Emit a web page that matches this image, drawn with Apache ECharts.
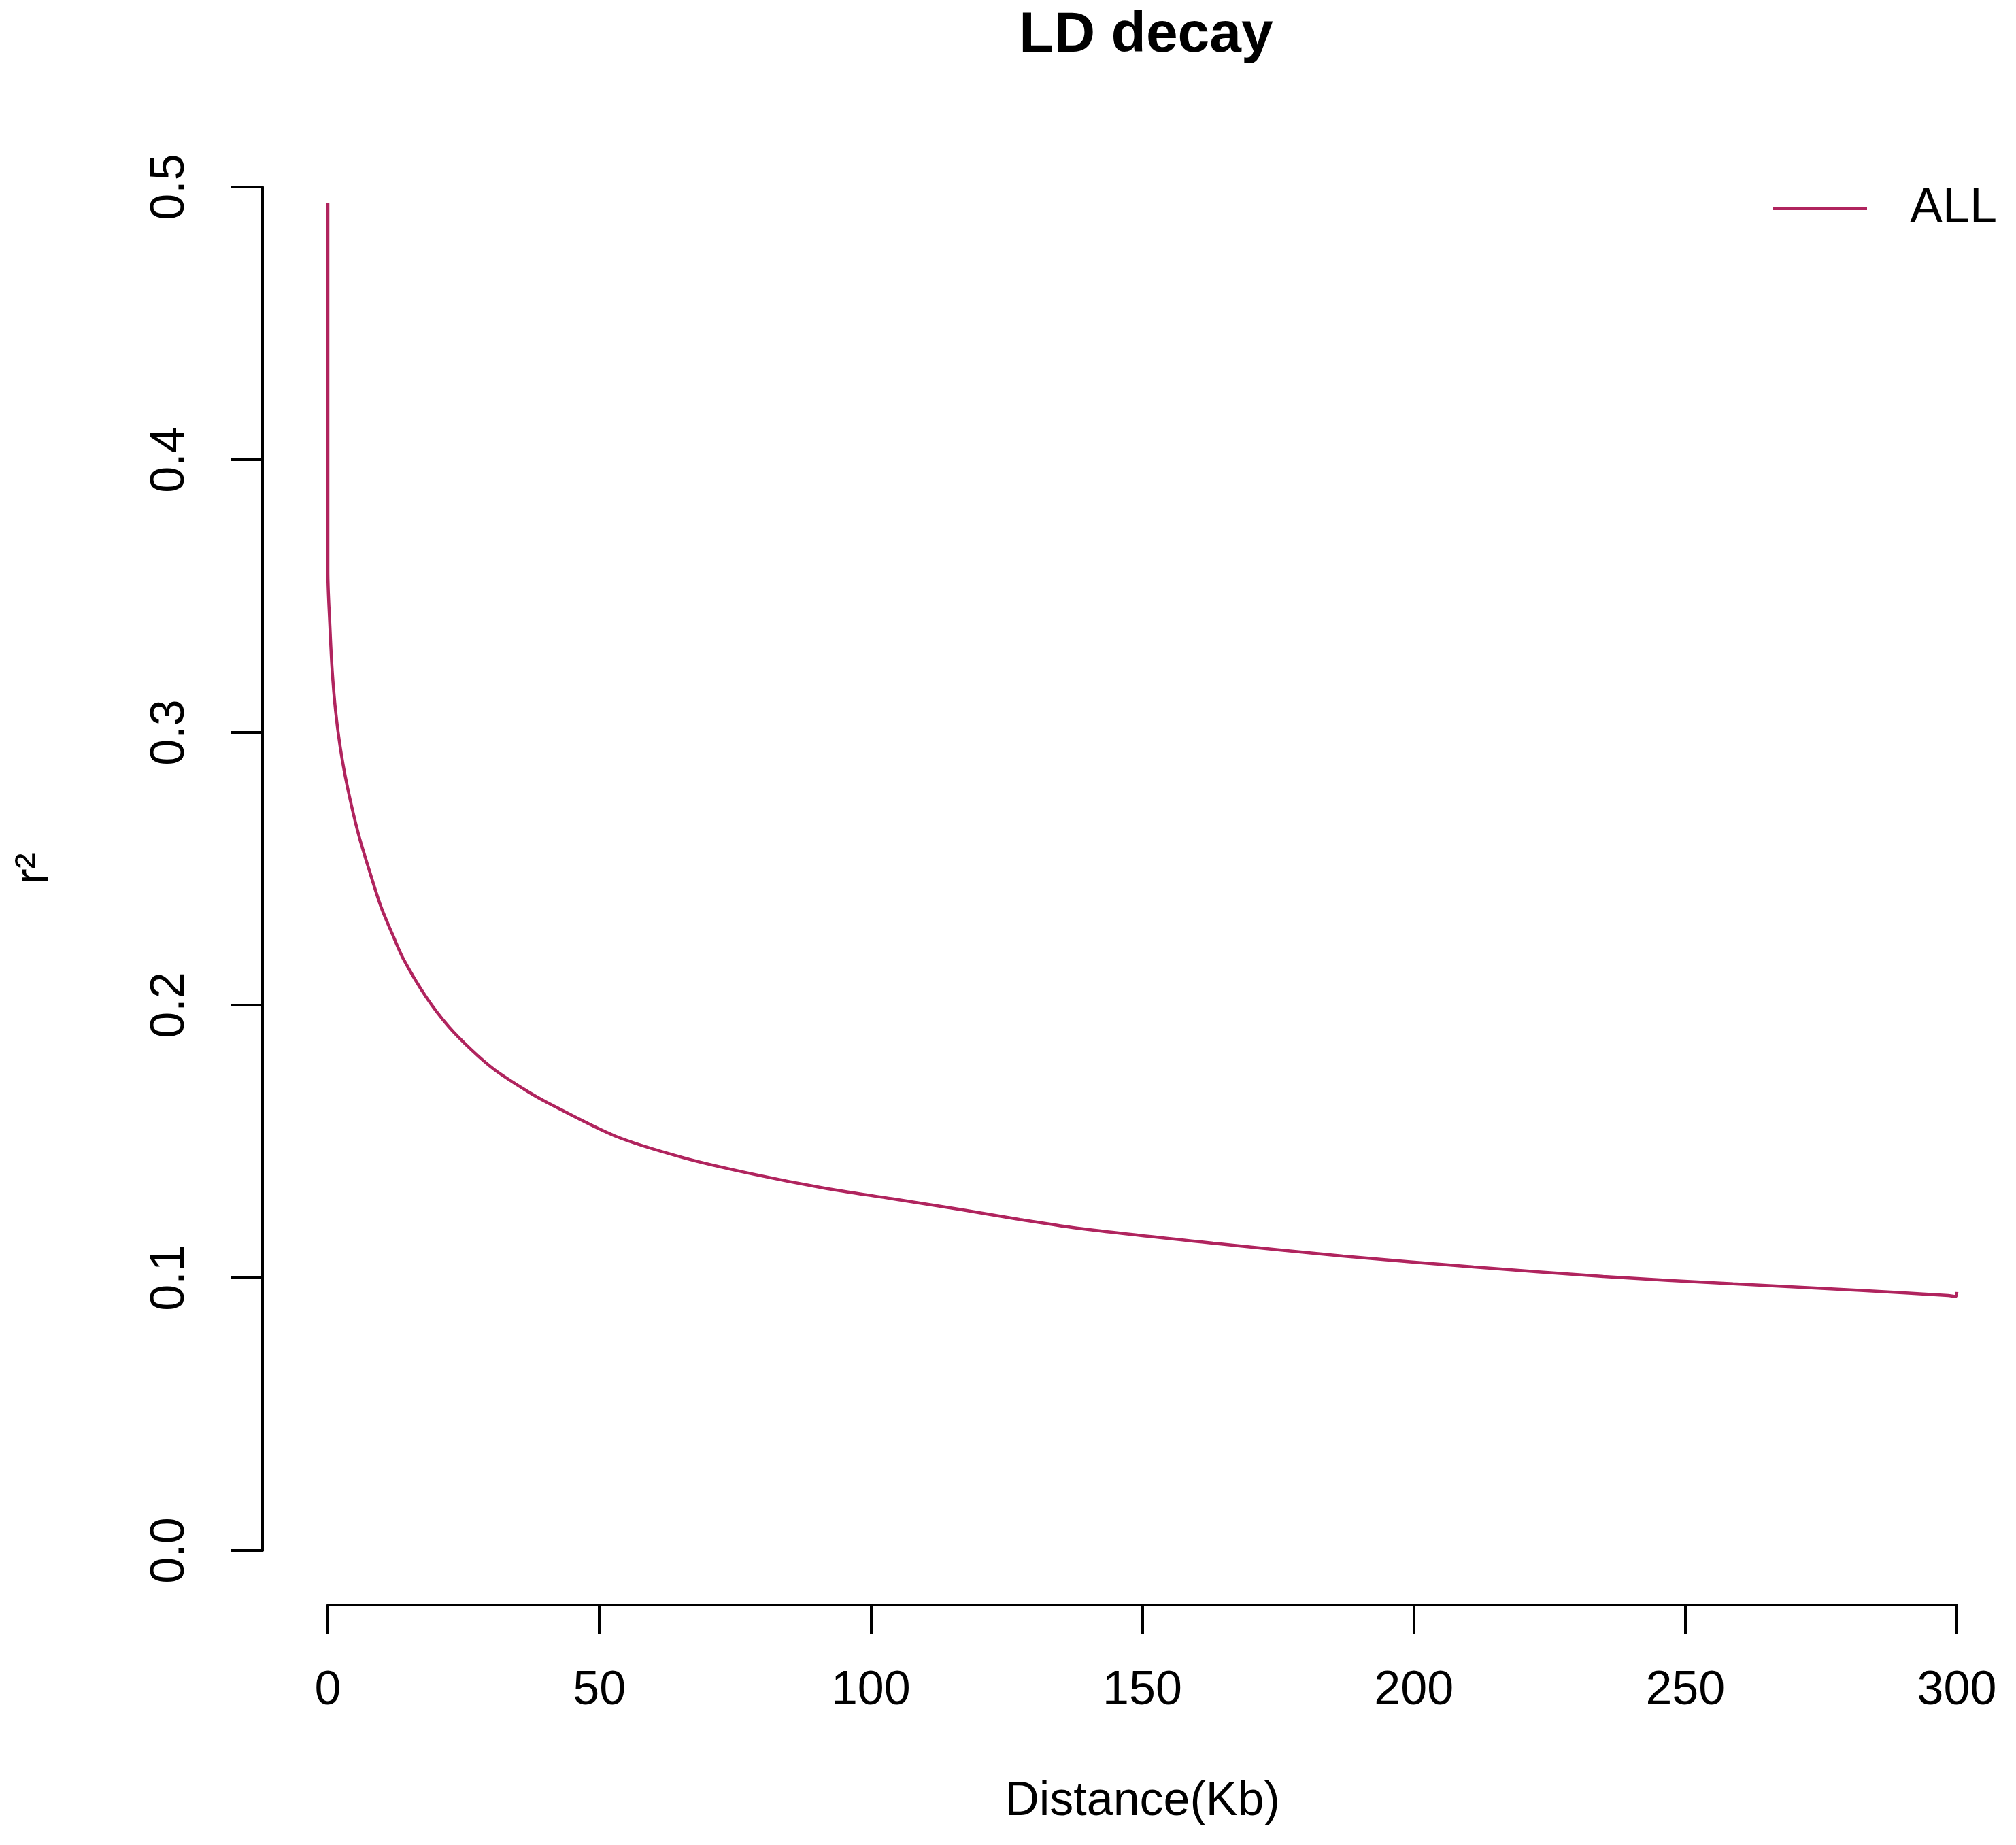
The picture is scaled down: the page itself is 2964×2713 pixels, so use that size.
<!DOCTYPE html>
<html>
  <head>
    <meta charset="UTF-8">
    <title>LD decay</title>
    <style type="text/css">
      body {
        margin: 0;
        padding: 0;
        background-color: white;
      }
      #main {
        width: 2964px;
        height: 2713px;
      }
    </style>
  </head>
  <body>
    <div id="main"></div>
    <script src="https://cdn.jsdelivr.net/npm/echarts@6/dist/echarts.min.js"></script>
    <script type="text/javascript">
      // distance in Kb and mean r^2
      var distance = [0, 0, 0.38, 0.79, 1.42, 2.25, 3.5, 5.6, 7.7, 9.8, 11.9, 13.9, 18.1, 22.3, 26.5, 30.7, 36.1,
                      40.1, 52.9, 65.6, 78.4, 91.2, 104, 116.7, 127.5, 138.9, 163, 186.9, 211, 234.9, 258.8,
                      282.8, 298.4, 299.8, 300];
      var r2 = [0.494, 0.359, 0.339, 0.323, 0.308, 0.295, 0.281, 0.263, 0.249, 0.236, 0.226, 0.217, 0.203, 0.192,
                0.1835, 0.1763, 0.1692, 0.1646, 0.152, 0.144, 0.138, 0.133, 0.129, 0.125, 0.1214, 0.118, 0.1127,
                0.108, 0.104, 0.1005, 0.0978, 0.0953, 0.0935, 0.0932, 0.0948];
      var xTicks = [0, 50, 100, 150, 200, 250, 300];
      var yTicks = [0, 0.1, 0.2, 0.3, 0.4, 0.5];
      var seriesName = 'ALL';

      var points = distance.map(function (d, i) { return [d, r2[i]]; });
      var font = 'Liberation Sans, Arial, Helvetica, sans-serif';

      var chart = echarts.init(document.getElementById('main'));
      chart.setOption({
        backgroundColor: 'white',
        animation: false,
        textStyle: { fontFamily: font },
        title: {
          text: 'LD decay',
          left: 1680,
          textAlign: 'center',
          top: 6,
          textStyle: { fontSize: 84, fontWeight: 'bold', color: '#000', fontFamily: font }
        },
        legend: {
          data: [seriesName],
          left: 2602,
          top: 266,
          icon: 'rect',
          itemWidth: 138,
          itemHeight: 4,
          textStyle: { fontSize: 72, color: '#000', padding: [0, 0, 0, 58], fontFamily: font }
        },
        grid: { left: 482, right: 87, top: 275, bottom: 433 },
        xAxis: {
          type: 'value',
          min: xTicks[0],
          max: xTicks[xTicks.length - 1],
          interval: 50,
          offset: 80,
          name: 'Distance(Kb)',
          nameLocation: 'middle',
          nameGap: 255,
          nameTextStyle: { fontSize: 70, color: '#000', fontFamily: font },
          axisLine: { onZero: false, lineStyle: { color: '#000', width: 4 } },
          axisTick: { length: 42, lineStyle: { color: '#000', width: 4 } },
          axisLabel: { fontSize: 70, color: '#000', margin: 92, fontFamily: font },
          splitLine: { show: false }
        },
        yAxis: {
          type: 'value',
          min: yTicks[0],
          max: yTicks[yTicks.length - 1],
          interval: 0.1,
          offset: 96,
          name: 'r²',
          nameLocation: 'middle',
          nameRotate: 90,
          nameGap: 300,
          nameTextStyle: { fontSize: 70, color: '#000', fontFamily: font },
          axisLine: { show: true, onZero: false, lineStyle: { color: '#000', width: 4 } },
          axisTick: { show: true, length: 47, lineStyle: { color: '#000', width: 4 } },
          axisLabel: {
            fontSize: 70, color: '#000', rotate: 90, margin: 100, fontFamily: font,
            formatter: function (v) { return v.toFixed(1); }
          },
          splitLine: { show: false }
        },
        series: [{
          name: seriesName,
          type: 'line',
          data: points,
          showSymbol: false,
          symbol: 'none',
          smooth: 0.3,
          color: '#B0245E',
          lineStyle: { width: 4.5, color: '#B0245E' }
        }]
      });
    </script>
  </body>
</html>
